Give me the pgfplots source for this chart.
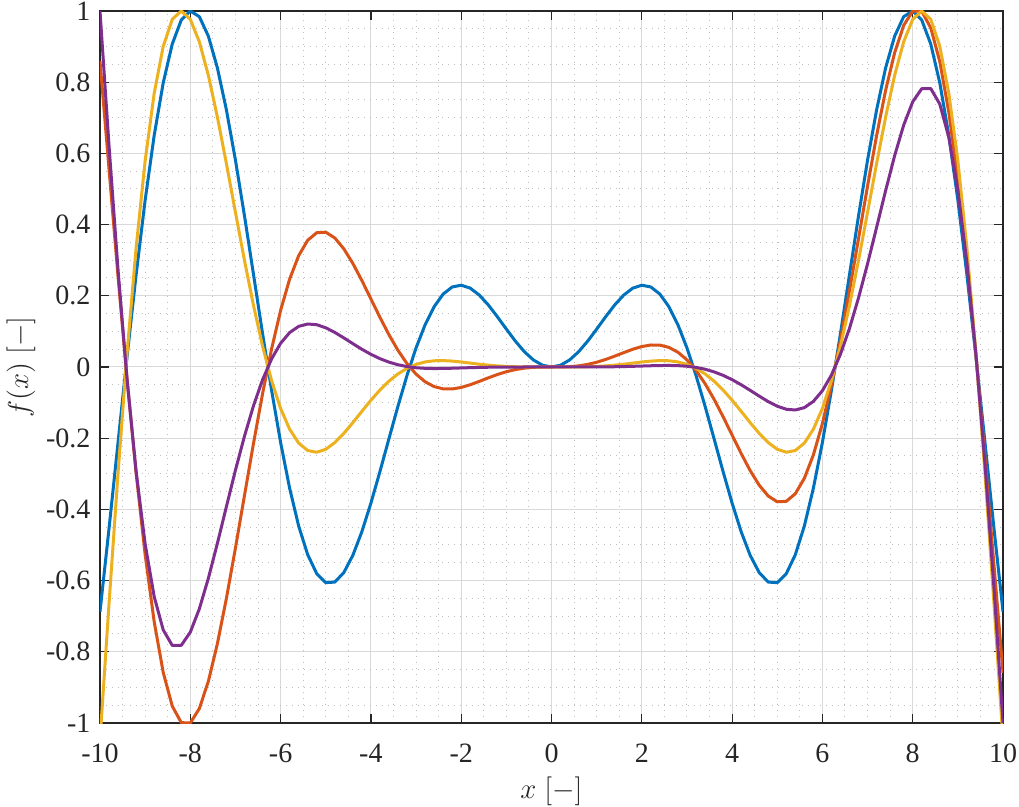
\documentclass[border=0pt]{standalone}
\usepackage{fontspec}
\setmainfont{Liberation Serif}
\usepackage{pgfplots}
\pgfplotsset{compat=1.18}
\usepackage{pgfplotstable}
\definecolor{mblue}{rgb}{0,0.447,0.741}
\definecolor{mred}{rgb}{0.850,0.325,0.098}
\definecolor{myellow}{rgb}{0.929,0.694,0.125}
\definecolor{mpurple}{rgb}{0.494,0.184,0.556}
\definecolor{maxis}{rgb}{0.15,0.15,0.15}
\pgfplotstableread{
x b r y p
-10.0 -0.68734 0.85918 -1.04884 1.00000
-9.8 -0.45377 0.55586 -0.66500 0.62135
-9.6 -0.21144 0.25373 -0.29735 0.27217
-9.4 0.02942 -0.03457 0.03967 -0.03556
-9.2 0.25908 -0.29794 0.33462 -0.29351
-9.0 0.46862 -0.52720 0.57922 -0.49702
-8.8 0.65033 -0.71536 0.76848 -0.64478
-8.6 0.79797 -0.85782 0.90057 -0.73843
-8.4 0.90698 -0.95233 0.97655 -0.78211
-8.2 0.97462 -0.99899 1.00000 -0.78182
-8.0 1.00000 -1.00000 0.97660 -0.74490
-7.8 0.98405 -0.95945 0.91357 -0.67941
-7.6 0.92941 -0.88295 0.81917 -0.59358
-7.4 0.84024 -0.77723 0.70211 -0.49537
-7.2 0.72199 -0.64979 0.57112 -0.39206
-7.0 0.58105 -0.50841 0.43446 -0.28996
-6.8 0.42451 -0.36084 0.29953 -0.19420
-6.6 0.25979 -0.21432 0.17268 -0.10866
-6.4 0.09424 -0.07539 0.05890 -0.03594
-6.2 -0.06509 0.05044 -0.03818 0.02257
-6.0 -0.21182 0.15886 -0.11636 0.06656
-5.8 -0.34046 0.24683 -0.17477 0.09664
-5.6 -0.44664 0.31265 -0.21373 0.11412
-5.4 -0.52723 0.35588 -0.23460 0.12078
-5.2 -0.58043 0.37727 -0.23949 0.11873
-5.0 -0.60578 0.37861 -0.23109 0.11017
-4.8 -0.60413 0.36248 -0.21240 0.09720
-4.6 -0.57752 0.33207 -0.18647 0.08178
-4.4 -0.52901 0.29096 -0.15628 0.06556
-4.2 -0.46250 0.24281 -0.12449 0.04985
-4.0 -0.38247 0.19124 -0.09338 0.03561
-3.8 -0.29376 0.13954 -0.06473 0.02345
-3.6 -0.20128 0.09057 -0.03980 0.01366
-3.4 -0.10977 0.04665 -0.01936 0.00628
-3.2 -0.02360 0.00944 -0.00369 0.00113
-3.0 0.05349 -0.02006 0.00735 -0.00210
-2.8 0.11851 -0.04148 0.01418 -0.00378
-2.6 0.16934 -0.05504 0.01747 -0.00433
-2.4 0.20482 -0.06144 0.01800 -0.00412
-2.2 0.22473 -0.06180 0.01660 -0.00348
-2.0 0.22977 -0.05744 0.01402 -0.00267
-1.8 0.22147 -0.04983 0.01095 -0.00188
-1.6 0.20207 -0.04041 0.00789 -0.00120
-1.4 0.17431 -0.03050 0.00521 -0.000696
-1.2 0.14131 -0.02120 0.00311 -0.000355
-1.0 0.10632 -0.01329 0.00162 -0.000155
-0.8 0.07251 -0.00725 0.000708 -0.000054
-0.6 0.04280 -0.00321 0.000235 -0.0000135
-0.4 0.01968 -0.00098 0.000048 -0.0000018
-0.2 0.00502 -0.00013 0.000003 -0.0000001
0.0 0 0 0 0
0.2 0.00502 0.00013 0.000003 0.0000001
0.4 0.01968 0.00098 0.000048 0.0000018
0.6 0.04280 0.00321 0.000235 0.0000135
0.8 0.07251 0.00725 0.000708 0.000054
1.0 0.10632 0.01329 0.00162 0.000155
1.2 0.14131 0.02120 0.00311 0.000355
1.4 0.17431 0.03050 0.00521 0.000696
1.6 0.20207 0.04041 0.00789 0.00120
1.8 0.22147 0.04983 0.01095 0.00188
2.0 0.22977 0.05744 0.01402 0.00267
2.2 0.22473 0.06180 0.01660 0.00348
2.4 0.20482 0.06144 0.01800 0.00412
2.6 0.16934 0.05504 0.01747 0.00433
2.8 0.11851 0.04148 0.01418 0.00378
3.0 0.05349 0.02006 0.00735 0.00210
3.2 -0.02360 -0.00944 -0.00369 -0.00113
3.4 -0.10977 -0.04665 -0.01936 -0.00628
3.6 -0.20128 -0.09057 -0.03980 -0.01366
3.8 -0.29376 -0.13954 -0.06473 -0.02345
4.0 -0.38247 -0.19124 -0.09338 -0.03561
4.2 -0.46250 -0.24281 -0.12449 -0.04985
4.4 -0.52901 -0.29096 -0.15628 -0.06556
4.6 -0.57752 -0.33207 -0.18647 -0.08178
4.8 -0.60413 -0.36248 -0.21240 -0.09720
5.0 -0.60578 -0.37861 -0.23109 -0.11017
5.2 -0.58043 -0.37727 -0.23949 -0.11873
5.4 -0.52723 -0.35588 -0.23460 -0.12078
5.6 -0.44664 -0.31265 -0.21373 -0.11412
5.8 -0.34046 -0.24683 -0.17477 -0.09664
6.0 -0.21182 -0.15886 -0.11636 -0.06656
6.2 -0.06509 -0.05044 -0.03818 -0.02257
6.4 0.09424 0.07539 0.05890 0.03594
6.6 0.25979 0.21432 0.17268 0.10866
6.8 0.42451 0.36084 0.29953 0.19420
7.0 0.58105 0.50841 0.43446 0.28996
7.2 0.72199 0.64979 0.57112 0.39206
7.4 0.84024 0.77723 0.70211 0.49537
7.6 0.92941 0.88295 0.81917 0.59358
7.8 0.98405 0.95945 0.91357 0.67941
8.0 1.00000 1.00000 0.97660 0.74490
8.2 0.97462 0.99899 1.00000 0.78182
8.4 0.90698 0.95233 0.97655 0.78211
8.6 0.79797 0.85782 0.90057 0.73843
8.8 0.65033 0.71536 0.76848 0.64478
9.0 0.46862 0.52720 0.57922 0.49702
9.2 0.25908 0.29794 0.33462 0.29351
9.4 0.02942 0.03457 0.03967 0.03556
9.6 -0.21144 -0.25373 -0.29735 -0.27217
9.8 -0.45377 -0.55586 -0.66500 -0.62135
10.0 -0.68734 -0.85918 -1.04884 -1.00000
}\datatable
\begin{document}
\begin{tikzpicture}
\begin{axis}[
  name=ax,
  scale only axis, width=451.5pt, height=356pt,
  xmin=-10, xmax=10, ymin=-1, ymax=1,
  xtick={-10,-8,-6,-4,-2,0,2,4,6,8,10},
  ytick={-1,-0.8,-0.6,-0.4,-0.2,0,0.2,0.4,0.6,0.8,1},
  minor x tick num=3, minor y tick num=3,
  grid=both,
  major grid style={draw=black!15, line width=0.5pt},
  minor grid style={draw=black!25, dash pattern=on 0.6pt off 2.4pt, line width=0.5pt},
  tick align=inside, major tick length=4.5pt, minor tick length=0pt,
  axis line style={maxis, line width=0.6pt},
  tick style={maxis, line width=0.6pt},
  ticklabel style={font=\fontsize{14}{16}\selectfont, text=maxis},
  /pgf/number format/assume math mode=true,
  xticklabel style={yshift=-7pt},
  yticklabel style={xshift=-1.3pt},
  xlabel={$x\;[-]$}, ylabel={$f(x)\;[-]$},
  label style={font=\fontsize{15.5}{17}\selectfont, text=maxis},
  xlabel style={at={(axis description cs:0.5,0)}, anchor=center, yshift=-34pt},
  ylabel style={at={(axis description cs:0,0.5)}, anchor=center, yshift=39.5pt},
  every axis plot/.append style={line width=1.5pt, no marks, line join=round},
]
\addplot[mblue] table[x=x, y=b] {\datatable};
\addplot[mred] table[x=x, y=r] {\datatable};
\addplot[myellow] table[x=x, y=y] {\datatable};
\addplot[mpurple] table[x=x, y=p] {\datatable};
\coordinate (ll) at (rel axis cs:0,0);
\coordinate (ur) at (rel axis cs:1,1);
\end{axis}
\pgfresetboundingbox
\path ([xshift=-50pt,yshift=-41.5pt]ll) rectangle ([xshift=8pt,yshift=5.5pt]ur);
\end{tikzpicture}
\end{document}
